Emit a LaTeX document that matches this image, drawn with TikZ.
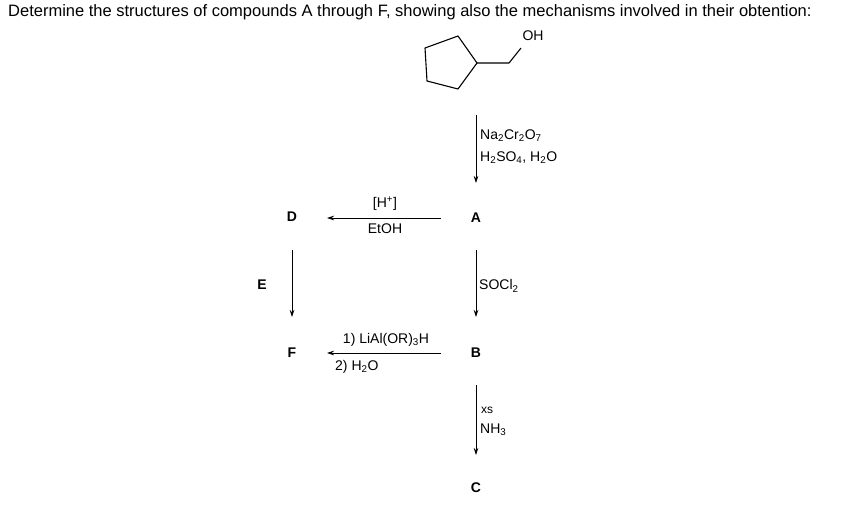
\documentclass[tikz,border=0pt]{standalone}
\usepackage{fontspec}
\setmainfont{Liberation Sans}
\usetikzlibrary{arrows.meta}
\newcommand{\sbs}[1]{\textsubscript{#1}}
\newcommand{\sps}[1]{\textsuperscript{#1}}
\begin{document}
\begin{tikzpicture}[x=1pt,y=-1pt,
  cmp/.style={font=\bfseries\fontsize{14}{16}\selectfont,inner sep=0pt},
  lab/.style={font=\fontsize{14}{16}\selectfont,inner sep=0pt},
  rx/.style={-{Stealth[length=7pt,width=4.5pt]},line width=0.7pt},
  bond/.style={line width=1.1pt,line join=round}]
\useasboundingbox (0,0) rectangle (866,510);
\node[anchor=west,font=\fontsize{16.5}{18}\selectfont,inner sep=0pt] (title) at (8,12) {Determine the structures of compounds A through F, showing also the mechanisms involved in their obtention:};
% molecule
\coordinate (p1) at (425,48); \coordinate (p2) at (458,36); \coordinate (p3) at (477,63);
\coordinate (p4) at (458,89); \coordinate (p5) at (427,81);
\coordinate (c1) at (509,63); \coordinate (c2) at (521,48);
\draw[bond] (p1)--(p2)--(p3)--(p4)--(p5)--cycle;
\draw[bond] (p3)--(c1)--(c2);
\node[lab] (oh) at (533,36) {OH};
% compounds
\node[cmp] (A) at (476,218) {A};
\node[cmp] (B) at (476,353) {B};
\node[cmp] (C) at (476,488) {C};
\node[cmp] (D) at (292,217) {D};
\node[cmp] (E) at (262,285) {E};
\node[cmp] (F) at (292,353) {F};
\coordinate (s0) at (476,115); \coordinate (s1) at (476,183);
\draw[rx] (s0)--(s1);
\node[lab,anchor=west] (r1) at (480,136) {Na\sbs{2}Cr\sbs{2}O\sbs{7}};
\node[lab,anchor=west] (r2) at (480,158) {H\sbs{2}SO\sbs{4}, H\sbs{2}O};
\coordinate (a0) at (441,218); \coordinate (a1) at (327,218);
\draw[rx] (a0)--(a1);
\node[lab] (h) at (385,204) {[H\sps{+}]};
\node[lab] (et) at (385,229) {EtOH};
\coordinate (d0) at (292,250); \coordinate (d1) at (292,317);
\draw[rx] (d0)--(d1);
\coordinate (b0) at (476,250); \coordinate (b1) at (476,317);
\draw[rx] (b0)--(b1);
\node[lab,anchor=west] (so) at (479,286) {SOCl\sbs{2}};
\coordinate (f0) at (441,353); \coordinate (f1) at (327,353);
\draw[rx] (f0)--(f1);
\node[lab] (li) at (386,340) {1) LiAl(OR)\sbs{3}H};
\node[lab,anchor=west] (hw) at (335,367) {2) H\sbs{2}O};
\coordinate (c0) at (476,385); \coordinate (cc) at (476,455);
\draw[rx] (c0)--(cc);
\node[lab,anchor=west,font=\fontsize{12}{14}\selectfont] (xs) at (481,410) {xs};
\node[lab,anchor=west] (nh) at (480,430) {NH\sbs{3}};
\end{tikzpicture}
\end{document}
